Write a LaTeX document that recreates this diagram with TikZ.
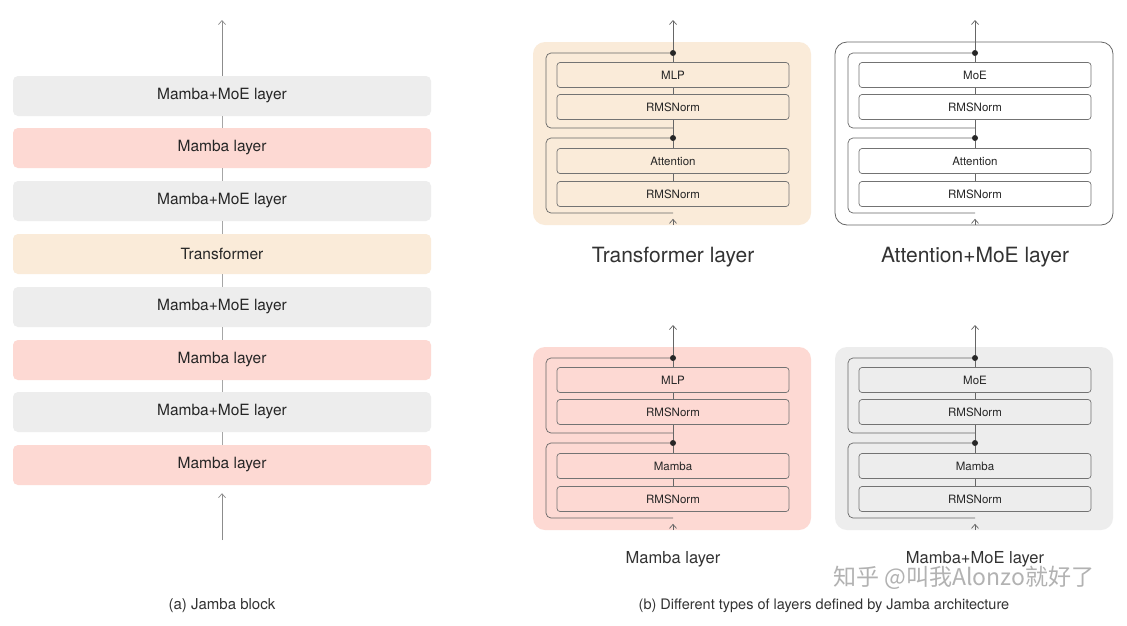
\documentclass[tikz,border=0pt]{standalone}
\usepackage{fontspec}
\usetikzlibrary{arrows.meta}
\setmainfont{TeX Gyre Heros}
\newfontfamily\cjk{Noto Sans CJK SC}
\begin{document}
\begin{tikzpicture}[x=1pt,y=-1pt,
  blk/.style={rounded corners=5pt,minimum width=418pt,minimum height=40pt,inner sep=0pt,font=\fontsize{15.5}{15}\selectfont,text=black!85},
  gr/.style={fill=jgray},pk/.style={fill=jpink},pc/.style={fill=jpeach},
  panel/.style={rounded corners=12pt,minimum width=278pt,minimum height=183pt,inner sep=0pt},
  ib/.style={draw=black!55,line width=0.7pt,rounded corners=3pt,minimum width=232pt,minimum height=25pt,inner sep=0pt,font=\fontsize{11.5}{11}\selectfont,text=black!85},
  ln/.style={draw=black!60,line width=0.7pt},
  arr/.style={draw=black!60,line width=0.7pt,-{Straight Barb[length=4pt,width=7pt]}},
  dot/.style={circle,fill=black!85,inner sep=0pt,minimum size=6pt}]
\definecolor{jgray}{HTML}{EDEDED}
\definecolor{jpink}{HTML}{FDD9D3}
\definecolor{jpeach}{HTML}{FAEBD9}
\useasboundingbox (0,0) rectangle (1127,625);
\fill[white] (0,0) rectangle (1127,625);
% left stack
\coordinate (ltop) at (222,20);
\coordinate (lbot) at (222,540);
\node[blk,gr] (l1) at (222,96) {Mamba+MoE layer};
\node[blk,pk] (l2) at (222,148) {Mamba layer};
\node[blk,gr] (l3) at (222,201) {Mamba+MoE layer};
\node[blk,pc] (l4) at (222,254) {Transformer};
\node[blk,gr] (l5) at (222,307) {Mamba+MoE layer};
\node[blk,pk] (l6) at (222,360) {Mamba layer};
\node[blk,gr] (l7) at (222,412) {Mamba+MoE layer};
\node[blk,pk] (l8) at (222,465) {Mamba layer};
\foreach \a/\b in {l1/l2,l2/l3,l3/l4,l4/l5,l5/l6,l6/l7,l7/l8} \draw[ln,draw=black!35] (\a.south) -- (\b.north);
\draw[arr,draw=black!45] (l1.north) -- (ltop);
\draw[arr,draw=black!45] (lbot) -- ([yshift=-8pt]l8.south);
\node[font=\fontsize{15}{15}\selectfont,text=black!80] (capa) at (222,606) {(a) Jamba block};
% right panels
\foreach \px/\py/\pn/\ps/\ta/\tb/\nm in {673/0/jpeach/none/MLP/Attention/A,975/0/white/black!60/MoE/Attention/B,673/305/jpink/none/MLP/Mamba/C,975/305/jgray/none/MoE/Mamba/D}{
  \node[panel,fill=\pn,draw=\ps,line width=0.8pt] (p\nm) at (\px-1,133.5+\py) {};
  \node[ib,fill=\pn] (m\nm) at (\px,75+\py) {\ta};
  \node[ib,fill=\pn] (n\nm) at (\px,107+\py) {RMSNorm};
  \node[ib,fill=\pn] (a\nm) at (\px,161+\py) {\tb};
  \node[ib,fill=\pn] (r\nm) at (\px,194+\py) {RMSNorm};
  \node[dot] (d\nm) at (\px,53+\py) {};
  \node[dot] (e\nm) at (\px,138+\py) {};
  \coordinate (t\nm) at (\px,20+\py);
  \coordinate (b\nm) at (\px,225+\py);
  \draw[arr] (d\nm) -- (t\nm);
  \draw[ln] (m\nm.north) -- (d\nm);
  \draw[ln] (n\nm.north) -- (m\nm.south);
  \draw[ln] (e\nm) -- (n\nm.south);
  \draw[ln] (a\nm.north) -- (e\nm);
  \draw[ln] (r\nm.north) -- (a\nm.south);
  \draw[arr] (b\nm) -- ([yshift=-12pt]r\nm.south);
  \draw[ln,rounded corners=5pt] (d\nm) -| (\px-127,128+\py) -- (\px,128+\py);
  \draw[ln,rounded corners=5pt] (e\nm) -| (\px-127,213+\py) -- (\px,213+\py);
}
\node[font=\fontsize{21}{21}\selectfont,text=black!80] (lA) at (673,257) {Transformer layer};
\node[font=\fontsize{21}{21}\selectfont,text=black!80] (lB) at (975,257) {Attention+MoE layer};
\node[font=\fontsize{16.5}{16}\selectfont,text=black!80] (lC) at (673,559) {Mamba layer};
\node[font=\fontsize{16.5}{16}\selectfont,text=black!80] (lD) at (975,559) {Mamba+MoE layer};
\node[font=\fontsize{14.5}{14}\selectfont,text=black!80] (capb) at (824,606) {(b) Different types of layers defined by Jamba architecture};
\node[font=\cjk\fontsize{23}{23}\selectfont,text=black!30,anchor=east] (wm) at (1098,578) {知乎 @叫我Alonzo就好了};
\end{tikzpicture}
\end{document}
